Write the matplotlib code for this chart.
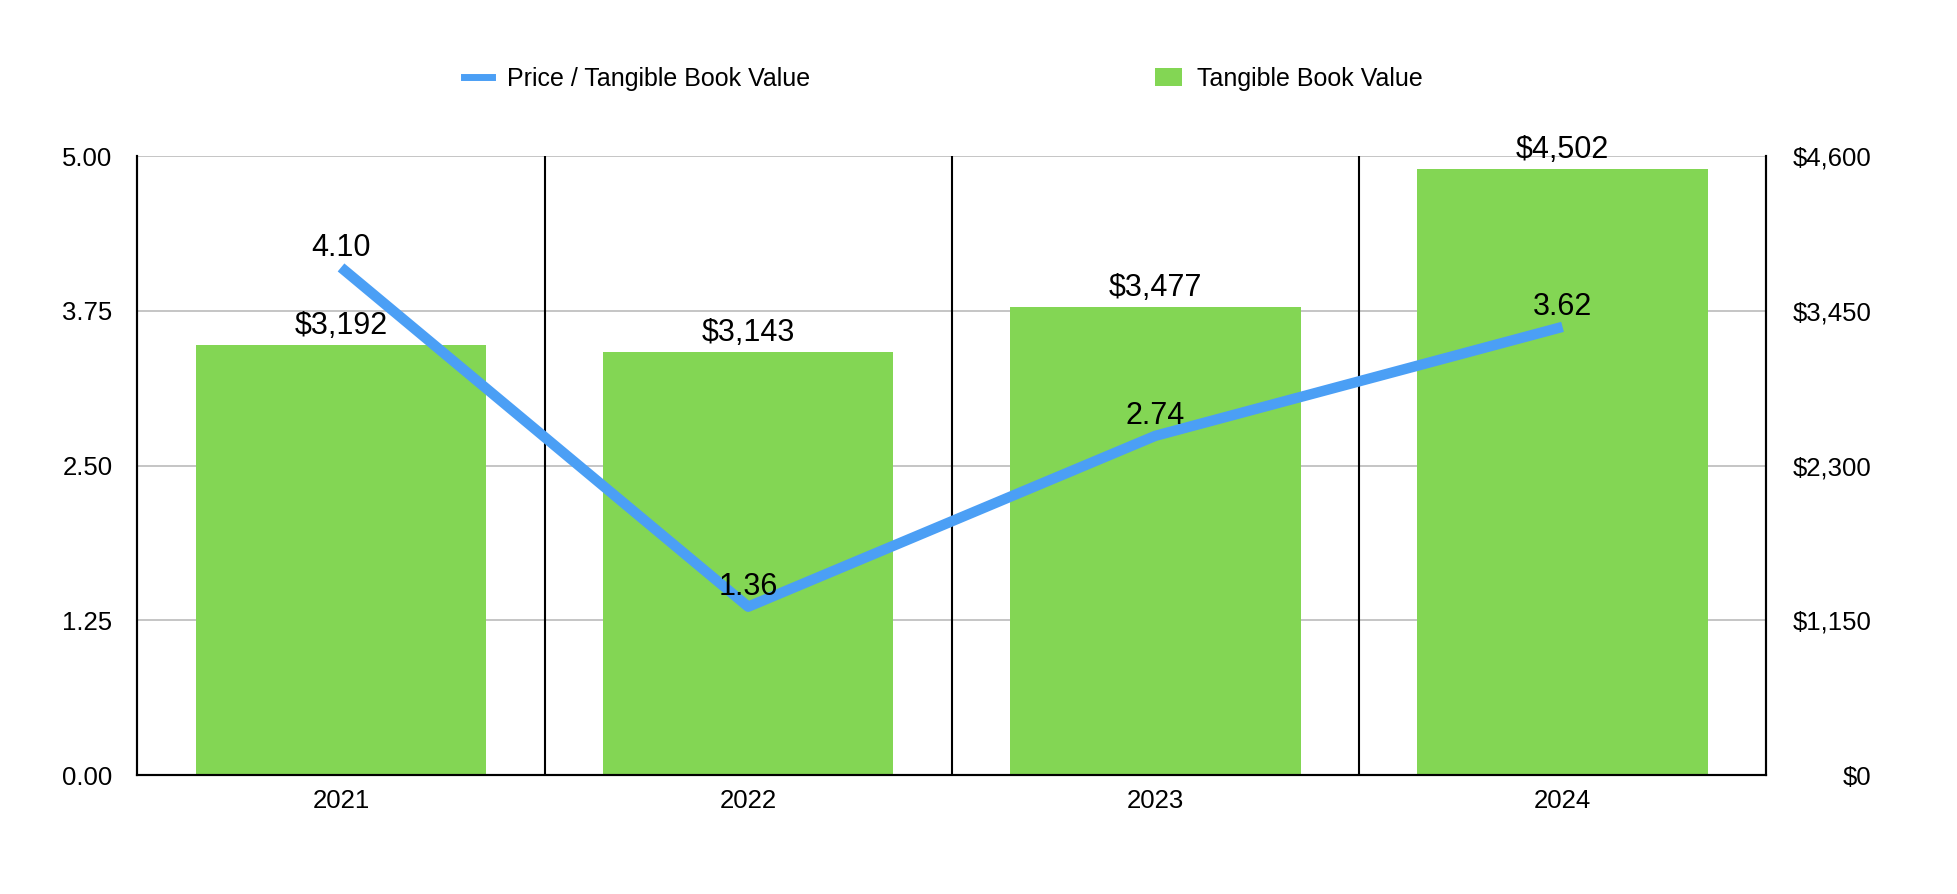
import matplotlib.pyplot as plt
from matplotlib.lines import Line2D
from matplotlib.patches import Patch
import numpy as np

plt.rcParams["font.family"] = ["Liberation Sans", "DejaVu Sans"]

years = ["2021", "2022", "2023", "2024"]
tbv = [3192, 3143, 3477, 4502]
p_tbv = [4.10, 1.36, 2.74, 3.62]
left_ticks = [0.0, 1.25, 2.5, 3.75, 5.0]
right_ticks = [0, 1150, 2300, 3450, 4600]

green = "#83d654"
blue = "#4b9ff5"

fig = plt.figure(figsize=(19.58, 8.94), dpi=100)
ax = fig.add_axes([0.0702, 0.133, 0.8318, 0.6925])
ax2 = ax.twinx()

x = np.arange(len(years))

# bars on the right axis
ax2.bar(x, tbv, width=0.713, color=green, zorder=2)
ax2.set_ylim(0, 4600)
ax2.set_yticks(right_ticks)
ax2.set_yticklabels([f"${v:,.0f}" for v in right_ticks], ha="right")
for xi, v in zip(x, tbv):
    ax2.annotate(f"${v:,.0f}", (xi, v), xytext=(0, 14), textcoords="offset points",
                 ha="center", va="center", fontsize=22)

# line on the left axis, drawn above the bars
ax.set_zorder(ax2.get_zorder() + 1)
ax.patch.set_visible(False)
ax.plot(x, p_tbv, color=blue, lw=7.5, solid_capstyle="butt", zorder=3)
for xi, v in zip(x, p_tbv):
    ax.annotate(f"{v:.2f}", (xi, v), xytext=(0, 14), textcoords="offset points",
                ha="center", va="center", fontsize=22)
ax.set_ylim(0, 5)
ax.set_yticks(left_ticks)
ax.set_yticklabels([f"{v:.2f}" for v in left_ticks])
ax.set_xlim(-0.5, len(years) - 0.5)
ax.set_xticks(x)
ax.set_xticklabels(years)

# gridlines and category separators
for t in left_ticks[1:]:
    ax2.axhline(t / 5 * 4600, color="#bbbbbb", lw=1.2, zorder=1)
for b in x[:-1] + 0.5:
    ax2.axvline(b, color="black", lw=1.5, zorder=1)

for a in (ax, ax2):
    a.spines["top"].set_visible(False)
    for s in ("left", "right", "bottom"):
        a.spines[s].set_linewidth(1.5)
    a.tick_params(axis="both", length=0, labelsize=18.5)
ax.tick_params(axis="y", pad=18)
ax.tick_params(axis="x", pad=10)
ax2.tick_params(axis="y", pad=76)

handles = [Line2D([], [], color=blue, lw=5),
           Patch(facecolor=green, edgecolor="none")]
fig.legend(handles, ["Price / Tangible Book Value", "Tangible Book Value"],
           loc="center", bbox_to_anchor=(0.482, 0.912), ncol=2, frameon=False,
           fontsize=18, handlelength=1.1, handletextpad=0.6, columnspacing=13.8)

fig.savefig("out.png", dpi=100)
